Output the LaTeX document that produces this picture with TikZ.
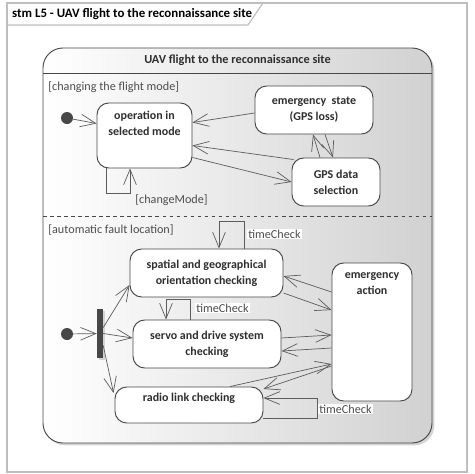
\documentclass[tikz,border=0pt]{standalone}
\usepackage{fontspec}
\setmainfont{Carlito}
\usepackage{tikz}
\usetikzlibrary{arrows.meta,positioning,shadows}

\definecolor{linegray}{HTML}{5C5C5C}
\definecolor{boxgray}{HTML}{474747}
\definecolor{framegray}{HTML}{BEBEBE}
\definecolor{txtgray}{HTML}{2E2E2E}

\begin{document}
\begin{tikzpicture}[
    x=0.03cm,y=-0.03cm,
    font=\fontsize{10.4}{13.6}\selectfont,
    stbox/.style={draw=boxgray,line width=0.8pt,fill=white,rounded corners=10pt,align=center,inner sep=0pt,text=txtgray,font=\fontsize{10.2}{13.6}\selectfont\bfseries},
    initdot/.style={circle,fill=boxgray,inner sep=0pt,minimum size=0.36cm},
    arr/.style={-{Straight Barb[length=4.6mm,width=3.8mm]},linegray,line width=0.6pt},
    lbl/.style={inner sep=1pt,text=txtgray!85},
    tlbl/.style={lbl,fill=white,anchor=west}
  ]
    \useasboundingbox (0,0) rectangle (474,474);
    \draw[framegray,line width=1pt] (7,3) rectangle (467,472);
    \draw[framegray,line width=1pt] (7,25) -- (248,25) -- (263,3);
    \node[anchor=west,inner sep=0pt,text=black,font=\fontsize{11}{13.6}\selectfont\bfseries] (ttl) at (12,14) {stm L5 - UAV flight to the reconnaissance site};

    \draw[boxgray,line width=0.8pt,rounded corners=17pt,left color=white,right color=black!18,drop shadow={shadow xshift=2pt,shadow yshift=-2pt,opacity=0.35}] (43,48) rectangle (432,443);
    \draw[boxgray,line width=0.8pt] (43,73) -- (432,73);
    \draw[boxgray,line width=0.6pt,dashed] (43,216) -- (432,216);
    \node[text=txtgray,font=\fontsize{10.5}{13.6}\selectfont\bfseries] (smt) at (237.5,60.5) {UAV flight to the reconnaissance site};
    \node[lbl,anchor=west] (rg1) at (47,87) {[changing the flight mode]};
    \node[lbl,anchor=west] (rg2) at (47,230) {[automatic fault location]};

    \node[initdot] (i1) at (67,118) {};
    \node[stbox,minimum width=2.85cm,minimum height=1.95cm,text height=0.98cm,text depth=0.97cm] (op) at (144.5,135.5) {operation in\\selected mode};
    \node[stbox,minimum width=3.54cm,minimum height=1.44cm] (es) at (314,110) {emergency\ \ state\\(GPS loss)};
    \node[stbox,minimum width=2.64cm,minimum height=1.44cm] (gps) at (336,182) {GPS data\\selection};
    \draw[arr] (i1) -- ([shift={(0,-12)}]op.west);
    \draw[arr] ([shift={(0,3)}]es.west) -- ([shift={(0,-13)}]op.east);
    \draw[arr] ([shift={(2,2)}]gps.north west) -- ([shift={(0,10)}]op.east);
    \draw[arr] ([shift={(0,22)}]op.east) -- (gps.west);
    \draw[arr] ([shift={(-16,0)}]gps.north) -- ([shift={(-1,0)}]es.south);
    \draw[arr] ([shift={(11,0)}]es.south) -- ([shift={(-3,0)}]gps.north);
    \draw[arr] ([shift={(-38.5,0)}]op.south) -- ++(0,25) -| ([shift={(-14.5,0)}]op.south);
    \node[lbl,anchor=west] (cm) at (134,200) {[changeMode]};

    \node[initdot] (i2) at (67,334) {};
    \node[fill=boxgray,inner sep=0pt,minimum width=0.18cm,minimum height=1.47cm,drop shadow={shadow xshift=1.5pt,shadow yshift=-1.5pt,opacity=0.3}] (bar) at (100,333.5) {};
    \node[stbox,minimum width=4.59cm,minimum height=1.44cm] (spat) at (206.5,273) {spatial and geographical\\orientation checking};
    \node[stbox,minimum width=4.44cm,minimum height=1.44cm] (servo) at (207,344) {servo and drive system\\checking};
    \node[stbox,minimum width=4.44cm,minimum height=1.08cm,text height=0.43cm,text depth=0.65cm] (radio) at (189,405) {radio link checking};
    \node[stbox,minimum width=2.4cm,minimum height=4.14cm,text height=0.95cm,text depth=3.19cm] (ea) at (372,332) {emergency\\action};
    \draw[arr] (i2) -- (bar);
    \draw[arr] ([shift={(0,-6)}]bar.east) -- ([shift={(0,12)}]spat.west);
    \draw[arr] (bar.east) -- ([shift={(0,-6)}]servo.west);
    \draw[arr] ([shift={(0,12)}]bar.east) -- ([shift={(-1,-12)}]radio.west);
    \draw[arr] ([shift={(0,-40)}]ea.west) -- ([shift={(0,3)}]spat.east);
    \draw[arr] ([shift={(0,20)}]spat.east) -- ([shift={(0,-22)}]ea.west);
    \draw[arr] ([shift={(0,-6)}]servo.east) -- ([shift={(0,3)}]ea.west);
    \draw[arr] ([shift={(0,16)}]ea.west) -- ([shift={(0,7)}]servo.east);
    \draw[arr] ([shift={(41,0)}]radio.north) -- ([shift={(0,32)}]ea.west);
    \draw[arr] ([shift={(0,34)}]ea.west) -- ([shift={(0,-16)}]radio.east);
    \draw[arr] ([shift={(37.5,0)}]spat.north) -- ++(0,-27) -| ([shift={(12.5,0)}]spat.north);
    \node[tlbl] (tc1) at (247,234) {timeCheck};
    \draw[arr] ([shift={(-17,0)}]servo.north) -- ++(0,-20) -| ([shift={(-41,0)}]servo.north);
    \node[tlbl] (tc2) at (195,308) {timeCheck};
    \draw[arr] ([shift={(0,13)}]radio.east) -- ++(54,0) |- ([shift={(0,-7)}]radio.east);
    \node[tlbl] (tc3) at (318,409) {timeCheck};
  \end{tikzpicture}
\end{document}
